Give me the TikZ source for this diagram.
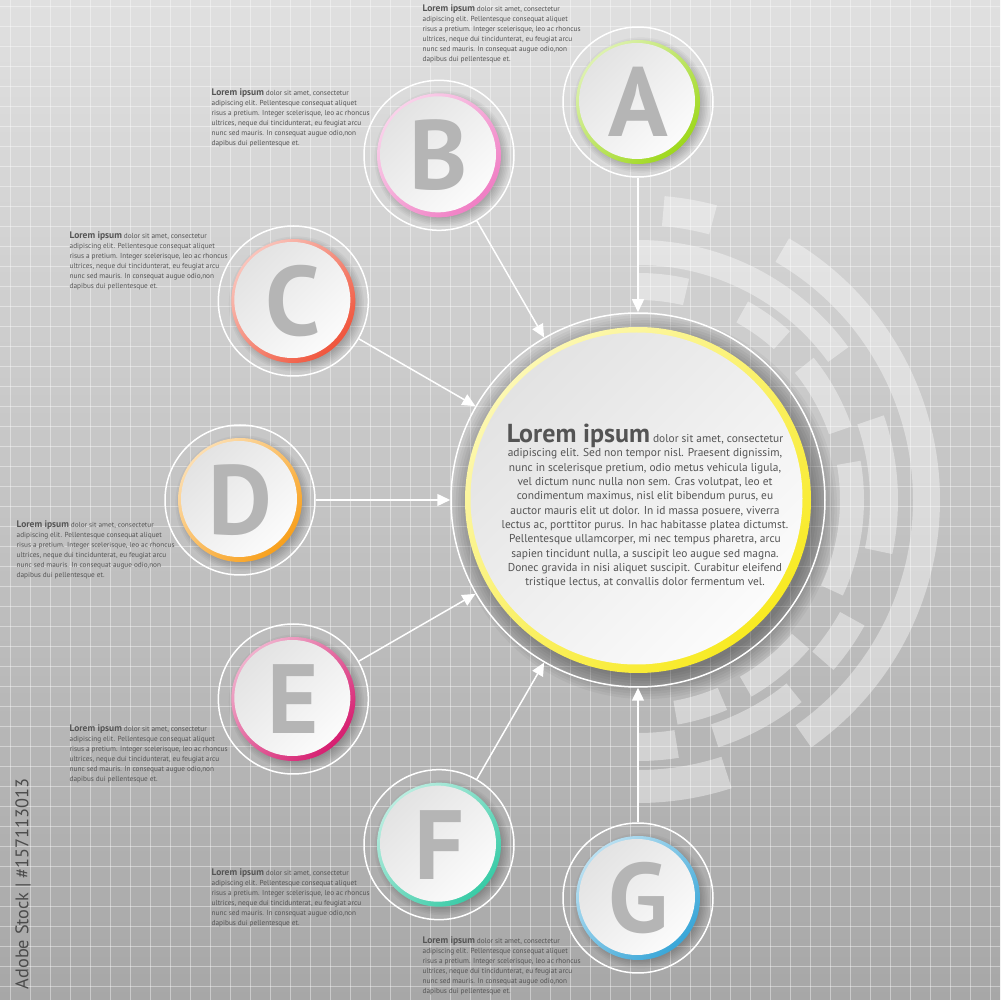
\documentclass[tikz,border=0pt]{standalone}
\usepackage{fontspec}
\setmainfont{PT Sans}
\usetikzlibrary{arrows.meta, positioning}
\definecolor{bgtop}{HTML}{E0E0E0}
\definecolor{bgbot}{HTML}{A7A7A7}
\definecolor{txt}{HTML}{545454}
\definecolor{cA}{HTML}{9ED81C}
\definecolor{cB}{HTML}{F07EC4}
\definecolor{cC}{HTML}{F0553C}
\definecolor{cD}{HTML}{F8A01C}
\definecolor{cE}{HTML}{D61E70}
\definecolor{cF}{HTML}{38CBA6}
\definecolor{cG}{HTML}{38A6D8}
\definecolor{cY}{HTML}{F8EA22}
\tikzstyle{ring} = [circle, draw=white, line width=0.15mm, minimum size=15mm, inner sep=0pt]
\tikzstyle{hub} = [circle, draw=white, line width=0.15mm, minimum size=37.4mm, inner sep=0pt]
\tikzstyle{link} = [white, line width=0.15mm, -{Triangle[length=1.3mm,width=1.2mm]}]
\tikzstyle{seg} = [white, opacity=0.4]
\tikzstyle{letter} = [inner sep=0pt, text=gray!58, font=\fontsize{28}{28}\selectfont\bfseries]
\tikzstyle{note} = [anchor=north west, inner sep=0pt, align=left, text=txt, font=\fontsize{2.07}{2.85}\selectfont]
\newcommand{\lorem}{{\fontsize{2.7}{2.85}\selectfont\bfseries Lorem ipsum} dolor sit amet, consectetur\\
  adipiscing elit. Pellentesque consequat aliquet\\
  risus a pretium. Integer scelerisque, leo ac rhoncus\\
  ultrices, neque dui tincidunterat, eu feugiat arcu\\
  nunc sed mauris. In consequat augue odio,non\\
  dapibus dui pellentesque et.}

\begin{document}
\begin{tikzpicture}[x=0.1mm, y=0.1mm, >=latex]
  \useasboundingbox (0,0) rectangle (1000,1000);
  % background and grid
  \shade[top color=bgtop, bottom color=bgbot] (0,0) rectangle (1000,1000);
  \foreach \i in {10,30,...,990}
    \draw[white, opacity=0.4, line width=0.1mm] (\i,0) -- (\i,1000);
  \foreach \j in {13,33,...,993}
    \draw[white, opacity=0.4, line width=0.1mm] (0,\j) -- (1000,\j);

  % arc pieces behind the hub
  \coordinate (mid) at (638,500);
  \foreach \ri/\ro/\a/\b in {275/305/75/85, 235/260/36/90, 200/227/77/90, 203/227/48/61,
      275/302/-55/60, 202/226/19/39, 232/260/-12/19, 202/226/-25/10, 231/259/-41/-29,
      204/227/-60/-41, 236/260/-72/-51, 204/228/-80/-67, 233/261/-90/-81, 270/303/-90/-72}
    \fill[seg, shift={(638,500)}] (\a:\ro) arc[start angle=\a, end angle=\b, radius=\ro]
      -- (\b:\ri) arc[start angle=\b, end angle=\a, radius=\ri] -- cycle;

  % hub
  \foreach \k in {1,...,10}
    \fill[black, opacity=0.04] ([shift={(7,-7)}]mid) circle (166+2.6*\k);
  \shade[top color=cY!35!white, bottom color=cY, shading angle=45] (mid) circle (173);
  \shade[top color=gray!22, bottom color=gray!3, shading angle=45] ([shift={(-1.5,1.5)}]mid) circle (166);
  \node[hub] (hub) at (mid) {};

  % letter discs
  \foreach \n/\ang in {A/90, B/120, C/150, D/180, E/210, F/240, G/270} {
    \coordinate (p\n) at ([shift={(\ang:398)}]mid);
    \foreach \k in {1,...,6}
      \fill[black, opacity=0.035] ([shift={(3,-3)}]p\n) circle (58+1.6*\k);
    \shade[top color=c\n!35!white, bottom color=c\n, shading angle=45] (p\n) circle (62);
    \shade[top color=gray!22, bottom color=gray!3, shading angle=45] ([shift={(-1,1)}]p\n) circle (58);
    \node[letter] (l\n) at (p\n) {\n};
    \node[ring] (\n) at (p\n) {};
    \draw[link] (\n) -- (hub);
  }

  % notes
  \node[note] (tA) at (422,996) {\lorem};
  \node[note] (tB) at (211,912) {\lorem};
  \node[note] (tC) at (69,769) {\lorem};
  \node[note] (tD) at (16,480) {\lorem};
  \node[note] (tE) at (69,276) {\lorem};
  \node[note] (tF) at (211,132) {\lorem};
  \node[note] (tG) at (422,64) {\lorem};

  \node[inner sep=0pt, align=center, text=txt, font=\fontsize{3.25}{4.07}\selectfont] (body) at (645,494)
    {{\fontsize{7.4}{4.07}\selectfont\bfseries Lorem ipsum} dolor sit amet, consectetur\\
     adipiscing elit. Sed non tempor nisl. Praesent dignissim,\\
     nunc in scelerisque pretium, odio metus vehicula ligula,\\
     vel dictum nunc nulla non sem. Cras volutpat, leo et\\
     condimentum maximus, nisl elit bibendum purus, eu\\
     auctor mauris elit ut dolor. In id massa posuere, viverra\\
     lectus ac, porttitor purus. In hac habitasse platea dictumst.\\
     Pellentesque ullamcorper, mi nec tempus pharetra, arcu\\
     sapien tincidunt nulla, a suscipit leo augue sed magna.\\
     Donec gravida in nisi aliquet suscipit. Curabitur eleifend\\
     tristique lectus, at convallis dolor fermentum vel.};

  \node[rotate=90, anchor=west, inner sep=0pt, text=black!70, font=\fontsize{5.2}{6}\selectfont] (stock) at (23,10)
    {Adobe Stock | \#157113013};
\end{tikzpicture}
\end{document}
